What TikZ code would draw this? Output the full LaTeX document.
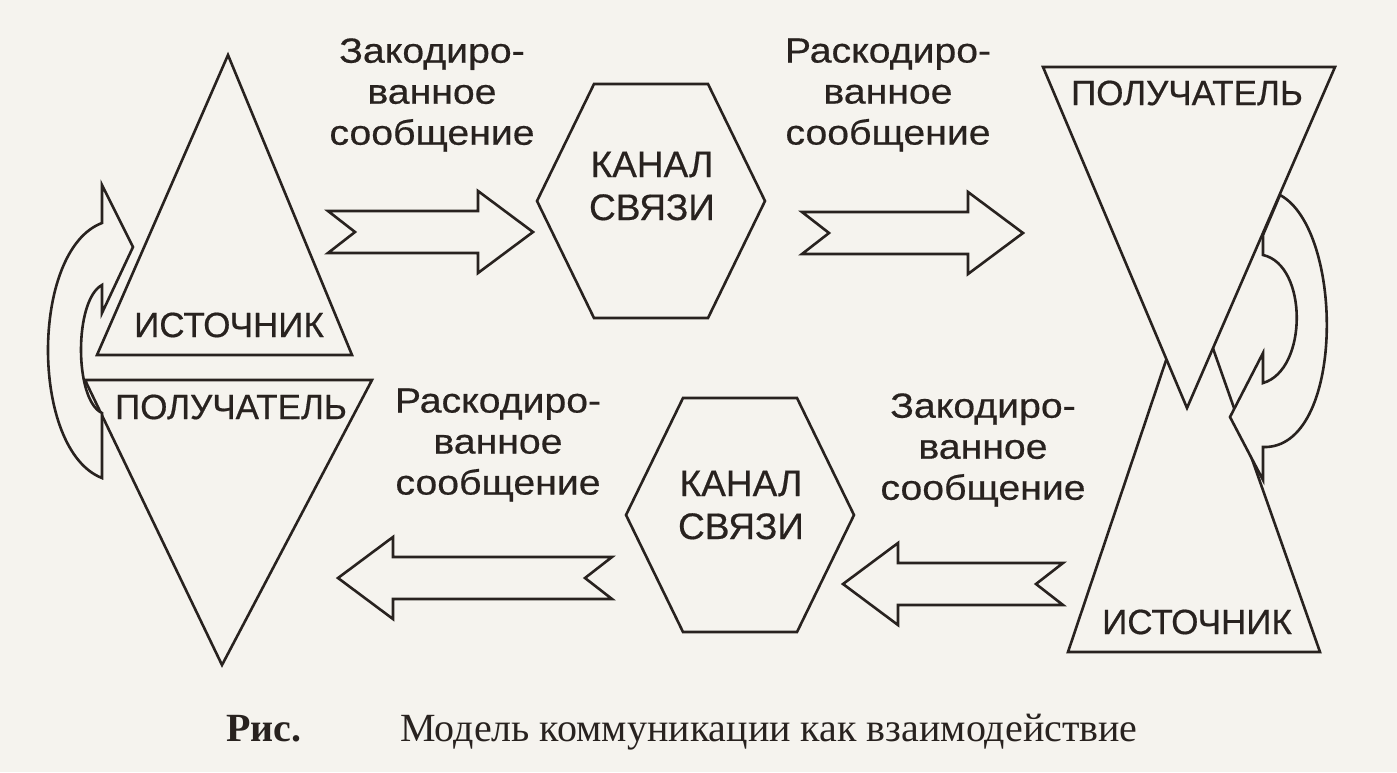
\documentclass[tikz,border=0pt]{standalone}
\usepackage{fontspec}
\setmainfont{Liberation Serif}
\setsansfont{Liberation Sans}[FakeBold=0.5]
\newfontfamily\msgfont{Liberation Sans}[FakeStretch=1.12, FakeBold=0.5]
\usetikzlibrary{calc}
\definecolor{paper}{RGB}{245,243,238}
\definecolor{ink}{RGB}{40,34,31}
\tikzset{
  outline/.style={draw=ink, line width=2.6pt, line join=miter, fill=paper},
  role/.style={font=\sffamily\fontsize{35}{40}\selectfont, text=ink, inner sep=0pt},
  chan/.style={font=\sffamily\fontsize{37}{43}\selectfont, align=center, text=ink, inner sep=0pt},
  msg/.style={font=\msgfont\fontsize{35}{41}\selectfont, align=center, text=ink, inner sep=0pt},
  capt/.style={font=\fontsize{40}{44}\selectfont, text=ink, inner sep=0pt, anchor=base west}
}
% block arrow from tail #1 to tip #2
\newcommand{\blockarrow}[2]{
  \coordinate (hb) at ($(#2)!55pt!(#1)$);
  \draw[outline] ($(#1)!27pt!(#2)$) -- ($(#1)!21pt!90:(#2)$) -- ($(hb)!21pt!90:(#2)$)
    -- ($(hb)!41pt!90:(#2)$) -- (#2) -- ($(hb)!41pt!-90:(#2)$) -- ($(hb)!21pt!-90:(#2)$)
    -- ($(#1)!21pt!-90:(#2)$) -- cycle;
}
% hexagon round a centre
\newcommand{\hexframe}[1]{
  \draw[outline] ($(#1)+(-114,0)$) -- ($(#1)+(-57,-117)$) -- ($(#1)+(57,-117)$)
    -- ($(#1)+(114,0)$) -- ($(#1)+(57,117)$) -- ($(#1)+(-57,117)$) -- cycle;
}

\begin{document}
\begin{tikzpicture}[x=1pt, y=-1pt]
  \fill[paper] (0,0) rectangle (1397,772);
  \useasboundingbox (0,0) rectangle (1397,772);

  % left pair
  \draw[outline] (228,55) -- (352,355) -- (97,355) -- cycle;
  \draw[outline] (85,380) -- (372,380) -- (222,665) -- cycle;
  \draw[outline] (102,223) -- (102,185) -- (133,247) -- (102,313) -- (102,285)
    .. controls (74,300) and (74,400) .. (102,413) -- (102,478)
    .. controls (30,450) and (30,250) .. cycle;

  % right pair
  \draw[outline] (1191,286) -- (1320,652) -- (1068,652) -- cycle;
  \draw[outline] (1043,67) -- (1335,67) -- (1187,408) -- cycle;
  \draw[outline] (1280,195) .. controls (1345,230) and (1345,450) .. (1263,447)
    -- (1263,480) -- (1230,417) -- (1263,353) -- (1263,383)
    .. controls (1308,370) and (1308,265) .. (1263,255) -- (1263,235) -- cycle;

  % channels
  \coordinate (hex1) at (651,201);
  \coordinate (hex2) at (740,515);
  \hexframe{hex1}
  \hexframe{hex2}

  % message arrows
  \coordinate (enc1t) at (328,232);
  \coordinate (enc1h) at (533,232);
  \coordinate (dec1t) at (802,233);
  \coordinate (dec1h) at (1023,233);
  \coordinate (dec2t) at (612,578);
  \coordinate (dec2h) at (338,578);
  \coordinate (enc2t) at (1063,584);
  \coordinate (enc2h) at (843,584);
  \blockarrow{enc1t}{enc1h}
  \blockarrow{dec1t}{dec1h}
  \blockarrow{dec2t}{dec2h}
  \blockarrow{enc2t}{enc2h}

  \node[role] (src1) at (229,325) {ИСТОЧНИК};
  \node[role] (rcv1) at (231,407) {ПОЛУЧАТЕЛЬ};
  \node[role] (rcv2) at (1187,93) {ПОЛУЧАТЕЛЬ};
  \node[role] (src2) at (1197,622) {ИСТОЧНИК};
  \node[chan] (chan1) at (652,186) {КАНАЛ\\СВЯЗИ};
  \node[chan] (chan2) at (741,505) {КАНАЛ\\СВЯЗИ};

  \node[msg] (msg1) at (432,95) {Закодиро-\\ванное\\сообщение};
  \node[msg] (msg2) at (888,95) {Раскодиро-\\ванное\\сообщение};
  \node[msg] (msg3) at (498,445) {Раскодиро-\\ванное\\сообщение};
  \node[msg] (msg4) at (983,450) {Закодиро-\\ванное\\сообщение};

  \node[capt, font=\bfseries\fontsize{40}{44}\selectfont] (fig) at (226,741) {Рис.};
  \node[capt] (figcap) at (400,741) {Модель коммуникации как взаимодействие};
\end{tikzpicture}
\end{document}
